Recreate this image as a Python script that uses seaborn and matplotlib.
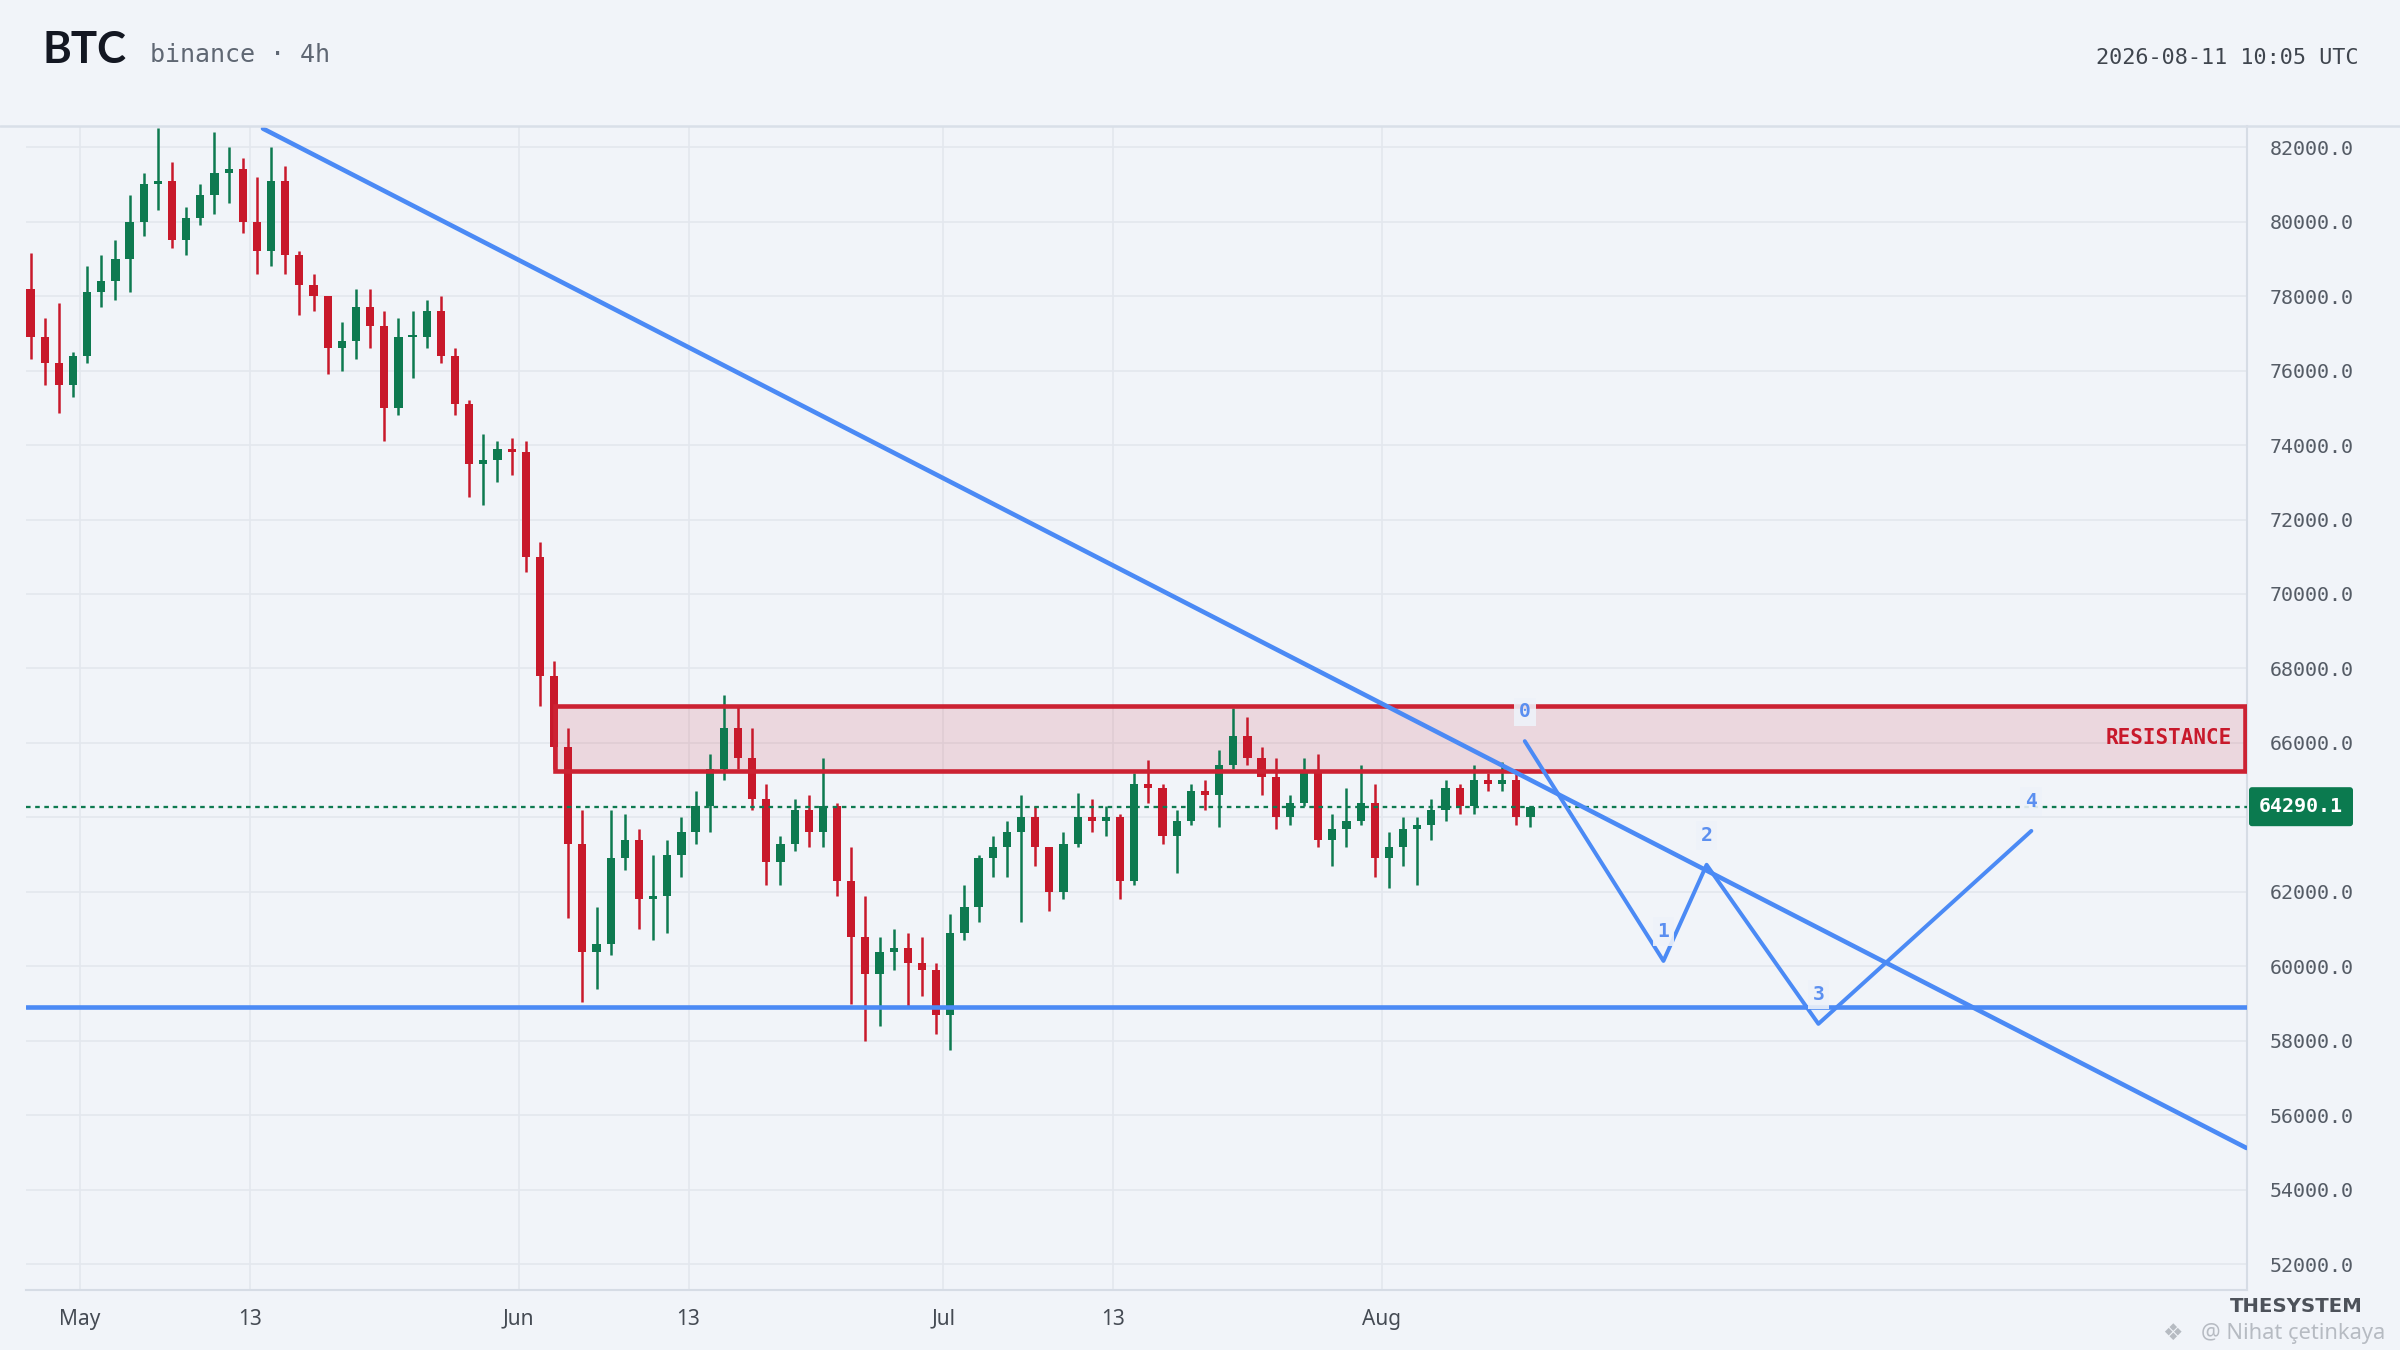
import numpy as np
import pandas as pd
import seaborn as sns
import matplotlib.pyplot as plt
import matplotlib.transforms as mtransforms
from matplotlib.lines import Line2D
from matplotlib.patches import Rectangle

# Daily candles. day 0 = 1 May, prices in thousand USD.
day_index = list(range(-4, 103))
first_open = 78.2
close_k = [
    76.9, 76.2, 75.6, 76.4, 78.1, 78.4, 79.0, 80.0, 81.0, 81.1,
    79.5, 80.1, 80.7, 81.3, 81.4, 80.0, 79.2, 81.1, 79.1, 78.3,
    78.0, 76.6, 76.8, 77.7, 77.2, 75.0, 76.9, 76.9, 77.6, 76.4,
    75.1, 73.5, 73.6, 73.9, 73.8, 71.0, 67.8, 65.9, 63.3, 60.4,
    60.6, 62.9, 63.4, 61.8, 61.9, 63.0, 63.6, 64.3, 65.3, 66.4,
    65.6, 64.5, 62.8, 63.3, 64.2, 63.6, 64.3, 62.3, 60.8, 59.8,
    60.4, 60.5, 60.1, 59.9, 58.7, 60.9, 61.6, 62.9, 63.2, 63.6,
    64.0, 63.2, 62.0, 63.3, 64.0, 63.9, 64.0, 62.3, 64.9, 64.8,
    63.5, 63.9, 64.7, 64.6, 65.4, 66.2, 65.6, 65.1, 64.0, 64.4,
    65.2, 63.4, 63.7, 63.9, 64.4, 62.9, 63.2, 63.7, 63.8, 64.2,
    64.8, 64.3, 65.0, 64.9, 65.0, 64.0, 64.29,
]
high_k = [
    79.15, 77.4, 77.8, 76.5, 78.8, 79.1, 79.5, 80.7, 81.3, 82.5,
    81.6, 80.4, 81.0, 82.4, 82.0, 81.7, 81.2, 82.0, 81.5, 79.2,
    78.6, 78.0, 77.3, 78.2, 78.2, 77.6, 77.4, 77.6, 77.9, 78.0,
    76.6, 75.2, 74.3, 74.1, 74.2, 74.1, 71.4, 68.2, 66.4, 64.2,
    61.6, 64.2, 64.1, 63.7, 63.0, 63.4, 64.0, 64.7, 65.7, 67.3,
    67.0, 66.4, 64.9, 63.5, 64.5, 64.6, 65.6, 64.4, 63.2, 61.9,
    60.8, 61.0, 60.9, 60.8, 60.1, 61.4, 62.2, 63.0, 63.5, 63.9,
    64.6, 64.3, 63.2, 63.6, 64.65, 64.5, 64.3, 64.1, 65.2, 65.55,
    64.9, 64.2, 64.9, 65.0, 65.8, 66.95, 66.7, 65.9, 65.6, 64.6,
    65.6, 65.7, 64.1, 64.8, 65.4, 64.9, 63.6, 64.0, 64.0, 64.5,
    65.0, 64.9, 65.4, 65.2, 65.5, 65.3, 64.3,
]
low_k = [
    76.3, 75.6, 74.85, 75.3, 76.2, 77.7, 77.9, 78.1, 79.6, 80.3,
    79.3, 79.1, 79.9, 80.2, 80.5, 79.7, 78.6, 78.8, 78.6, 77.5,
    77.6, 75.9, 76.0, 76.3, 76.6, 74.1, 74.8, 75.8, 76.6, 76.2,
    74.8, 72.6, 72.4, 73.0, 73.2, 70.6, 67.0, 65.3, 61.3, 59.05,
    59.4, 60.3, 62.6, 61.0, 60.7, 60.9, 62.4, 63.3, 63.6, 65.0,
    65.3, 64.2, 62.2, 62.2, 63.1, 63.2, 63.2, 61.9, 59.0, 58.0,
    58.4, 59.9, 58.9, 59.2, 58.2, 57.76, 60.7, 61.2, 62.4, 62.4,
    61.2, 62.7, 61.5, 61.8, 63.2, 63.6, 63.5, 61.8, 62.2, 64.4,
    63.3, 62.5, 63.8, 64.2, 63.75, 65.3, 65.4, 64.6, 63.7, 63.8,
    64.3, 63.2, 62.7, 63.2, 63.8, 62.4, 62.1, 62.7, 62.2, 63.4,
    63.9, 64.1, 64.1, 64.7, 64.7, 63.8, 63.75,
]

last_price = 64290.1
support_level = 58900
resistance_low, resistance_high = 65250, 67000
resistance_start = 33.6

trend_days = [12.93, 153.1]
trend_prices = [82494, 55128]

wave_labels = ["0", "1", "2", "3", "4"]
wave_days = [102.1, 111.9, 114.95, 122.85, 137.9]
wave_prices = [66050, 60150, 62730, 58460, 63640]

tick_days = [0, 12, 31, 43, 61, 73, 92]
tick_labels = ["May", "13", "Jun", "13", "Jul", "13", "Aug"]
price_ticks = list(range(52000, 82001, 2000))

BG = "#f1f4f9"
GRID = "#e3e7ee"
SPINE = "#d6dce5"
UP = "#0e7a50"
DOWN = "#c8192b"
BLUE = "#4b8af5"
MONO = "DejaVu Sans Mono"

df = pd.DataFrame({
    "day": day_index,
    "close": np.array(close_k) * 1000,
    "high": np.array(high_k) * 1000,
    "low": np.array(low_k) * 1000,
})
df["open"] = [first_open * 1000] + df["close"].tolist()[:-1]
df["x"] = df["day"] + 0.5
colors = np.where(df["close"] >= df["open"], UP, DOWN)

sns.set_theme(style="whitegrid", rc={
    "axes.facecolor": BG, "figure.facecolor": BG,
    "grid.color": GRID, "grid.linewidth": 0.8,
})
plt.rcParams["font.family"] = ["Noto Sans", "DejaVu Sans"]

fig = plt.figure(figsize=(16, 9), dpi=150)
ax = fig.add_axes([26 / 2400, 60 / 1350, 2221 / 2400, 1164 / 1350])

# resistance zone: fill under the candles, border above
ax.add_patch(Rectangle((resistance_start, resistance_low), 153.0 - resistance_start,
                       resistance_high - resistance_low, facecolor=DOWN, alpha=0.13,
                       linewidth=0, zorder=2))
ax.add_patch(Rectangle((resistance_start, resistance_low), 153.0 - resistance_start,
                       resistance_high - resistance_low, fill=False, edgecolor="#cc2233",
                       linewidth=2.2, zorder=4))

# candles
ax.vlines(df["x"], df["low"], df["high"], colors=colors, linewidth=1.2, zorder=3)
body_bottom = np.minimum(df["open"], df["close"])
body_height = np.maximum((df["close"] - df["open"]).abs(), 40)
ax.bar(df["x"], body_height, bottom=body_bottom, width=0.58, color=colors,
       linewidth=0, zorder=3)

ax.axhline(last_price, color=UP, linestyle=(0, (2, 2)), linewidth=1.1, zorder=4)
ax.axhline(support_level, color=BLUE, linewidth=2.2, zorder=5)

sns.lineplot(x=trend_days, y=trend_prices, color=BLUE, linewidth=2.2, ax=ax, zorder=5)
sns.lineplot(x=wave_days, y=wave_prices, sort=False, color=BLUE, linewidth=1.9,
             ax=ax, zorder=5)

for lab, d, p in zip(wave_labels, wave_days, wave_prices):
    ax.annotate(lab, (d, p), xytext=(0, 14), textcoords="offset points",
                ha="center", va="center", fontsize=9.5, weight="bold", color="#5b8ff0",
                family=MONO, zorder=6,
                bbox=dict(boxstyle="square,pad=0.25", facecolor="#eef2f9",
                          edgecolor="none", alpha=0.9))

blend = mtransforms.blended_transform_factory(ax.transAxes, ax.transData)
ax.text(0.9932, (resistance_low + resistance_high) / 2, "RESISTANCE", transform=blend,
        ha="right", va="center", fontsize=10, weight="bold", color=DOWN, family=MONO,
        zorder=6)
ax.text(1.0054, last_price, f"{last_price:.1f}", transform=blend, ha="left", va="center",
        fontsize=9.6, weight="bold", color="white", family=MONO, zorder=10, clip_on=False,
        bbox=dict(boxstyle="round,pad=0.5,rounding_size=0.15", facecolor="#0b7a4f",
                  edgecolor="none"))

ax.set_xlim(-3.82, 153.14)
ax.set_ylim(51315, 82564)
ax.set_xlabel("")
ax.set_ylabel("")

ax.set_xticks(tick_days)
ax.set_xticklabels(tick_labels, fontsize=10, color="#454b54")
ax.yaxis.tick_right()
ax.set_yticks(price_ticks)
# the 64000 label sits under the last-price tag, so it is left blank
ax.set_yticklabels(["" if abs(p - last_price) < 1000 else f"{p:.1f}" for p in price_ticks],
                   family=MONO, fontsize=9.6, color="#555c66")
ax.tick_params(axis="y", length=0, pad=11)
ax.tick_params(axis="x", length=0, pad=9)
ax.grid(True, color=GRID, linewidth=0.8)

for side in ["left", "top"]:
    ax.spines[side].set_visible(False)
for side in ["right", "bottom"]:
    ax.spines[side].set_color(SPINE)
    ax.spines[side].set_linewidth(1.0)

# header
fig.add_artist(Line2D([0, 1], [1 - 126 / 1350] * 2, transform=fig.transFigure,
                      color="#d9dfe8", linewidth=1.2))
fig.text(43 / 2400, 1 - 63 / 1350, "BTC", fontsize=21, weight="bold",
         family=["Lato", "Noto Sans", "DejaVu Sans"],
         color="#131722", va="baseline")
fig.text(150 / 2400, 1 - 62 / 1350, "binance · 4h", fontsize=12, family=MONO,
         color="#5f6773", va="baseline")
fig.text(2359 / 2400, 1 - 64 / 1350, "2026-08-11 10:05 UTC", fontsize=10.5, family=MONO,
         color="#3f454e", ha="right", va="baseline")

# watermark bottom right
fig.text(2296 / 2400, 1 - 1306 / 1350, "THESYSTEM", fontsize=9.5, weight="bold",
         family="DejaVu Sans", color="#4d525a", ha="center", va="center")
fig.text(2172 / 2400, 1 - 1333 / 1350, "❖", fontsize=11, color="#a8adb5",
         ha="center", va="center", family="DejaVu Sans", alpha=0.8)
fig.text(2293 / 2400, 1 - 1333 / 1350, "@ Nihat çetinkaya", fontsize=10.5,
         color="#a8adb5", ha="center", va="center", alpha=0.8)

fig.savefig("out.png", dpi=150, facecolor=BG)
